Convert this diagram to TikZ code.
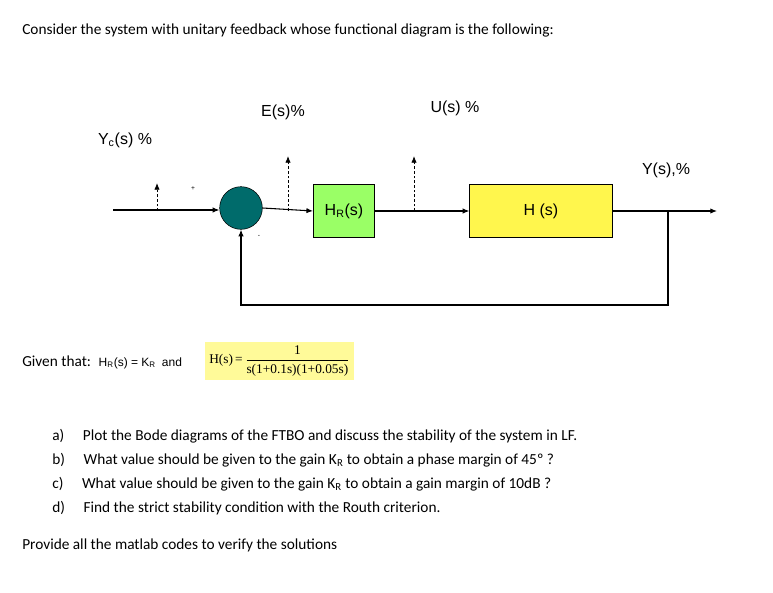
\documentclass[tikz,border=0pt]{standalone}
\usepackage{fontspec}
\setmainfont{Carlito}
\newfontfamily\arialf{Liberation Sans}
\newfontfamily\timesf{Liberation Serif}
\usetikzlibrary{positioning}
\usetikzlibrary{arrows.meta}
\begin{document}
\begin{tikzpicture}[
    x=0.75pt, y=-0.75pt,
    blk/.style={draw, inner sep=0, minimum width=#1, minimum height=40pt},
    sig/.style={->, >={Latex[length=5pt,width=4pt]}, thick},
    probe/.style={->, >={Latex[length=5pt,width=4pt]}, semithick, dashed, dash pattern=on 2pt off 1.5pt},
    lbl/.style={font=\arialf\fontsize{12}{14}\selectfont, inner sep=0},
    txt/.style={font=\fontsize{11.5}{14}\selectfont, anchor=west, inner sep=0}
]
\useasboundingbox (0,0) rectangle (773,592);

\node[txt] (title) at (22,30) {Consider the system with unitary feedback whose functional diagram is the following:};

% block diagram
\coordinate (in) at (113,210);
\node[circle, draw, fill=teal!80!cyan!70!black, minimum size=32pt, inner sep=0] (sum) at (241,208) {};
\node[blk=46pt, fill=green!55!lime!60] (hr) at (344,211) {\arialf\fontsize{12}{14}\selectfont H\textsubscript{R}(s)};
\node[blk=107pt, fill=yellow!70] (h) at (541,211) {\arialf\fontsize{12}{14}\selectfont H (s)};
\coordinate (out) at (717,211);
\coordinate (split) at (668,211);
\coordinate (fb) at (668,305);

\draw[sig] (in) -- (sum.west |- in);
\draw[sig] (sum.east) -- (hr.west);
\draw[sig] (hr.east) -- (h.west);
\draw[sig] (h.east) -- (out);
\draw[sig] (split) -- (fb) -| (sum.south);

\coordinate (p1) at (157,211);
\coordinate (p2) at (288,211);
\coordinate (p3) at (414,211);
\draw[probe] (p1) -- ++(0,-28);
\draw[probe] (p2) -- ++(0,-55);
\draw[probe] (p3) -- ++(0,-55);

\node[lbl] (yc) at (125,140) {Y\textsubscript{c}(s) \%};
\node[lbl] (es) at (283,112) {E(s)\%};
\node[lbl] (us) at (455,108) {U(s) \%};
\node[lbl] (ys) at (666,170) {Y(s),\%};
\node[font=\arialf\tiny, inner sep=0] (plus) at (193,189) {+};
\node[font=\arialf\tiny, inner sep=0] (minus) at (259,236) {-};

% given
\node[txt] (given) at (22,362) {Given that:\enspace{\arialf\fontsize{9}{10}\selectfont H\textsubscript{R}(s) = K\textsubscript{R}\enspace and}};
\node[fill=yellow!40, inner sep=3pt, anchor=west, font=\timesf\fontsize{10}{12}\selectfont] (hs) at (205,361)
  {H(s)\,=\,$\displaystyle\frac{\mbox{\timesf 1}}{\mbox{\timesf s(1+0.1s)(1+0.05s)}}$};

% questions
\node[txt] (qa) at (52,436) {a)\hspace{14pt}Plot the Bode diagrams of the FTBO and discuss the stability of the system in LF.};
\node[txt] (qb) at (52,460) {b)\hspace{14pt}What value should be given to the gain K\textsubscript{R} to obtain a phase margin of 45º ?};
\node[txt] (qc) at (52,484) {c)\hspace{14pt}What value should be given to the gain K\textsubscript{R} to obtain a gain margin of 10dB ?};
\node[txt] (qd) at (52,508) {d)\hspace{14pt}Find the strict stability condition with the Routh criterion.};
\node[txt] (prov) at (22,545) {Provide all the matlab codes to verify the solutions};
\end{tikzpicture}
\end{document}
